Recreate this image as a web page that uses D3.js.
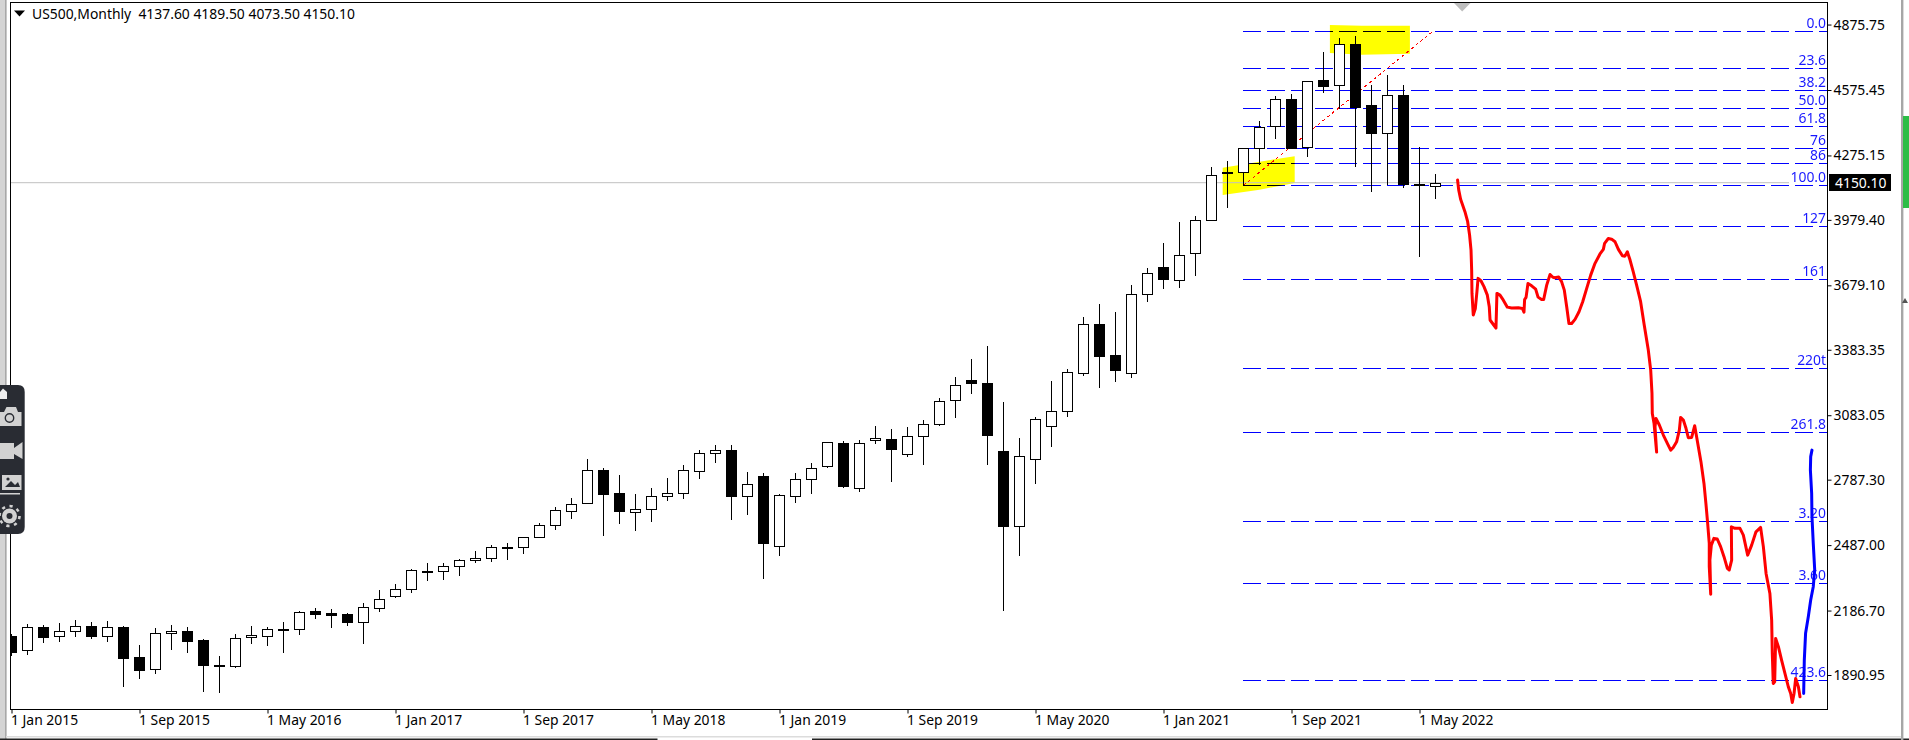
<!DOCTYPE html>
<html><head><meta charset="utf-8">
<style>html,body{margin:0;padding:0;background:#fff;overflow:hidden}svg{display:block}text{font-family:"Noto Sans",sans-serif;font-size:13.9px}</style>
<script src="https://cdn.jsdelivr.net/npm/d3@7"></script></head><body>
<svg id="c" width="1909" height="740"></svg>
<script>
const opens=[2070,2004,2111,2067,2089,2115,2067,2111,1973,1917,2080,2092,2051,1939,1935,2063,2067,2099,2100,2184,2174,2170,2131,2201,2250,2284,2365,2366,2389,2417,2426,2475,2476,2522,2577,2642,2678,2830,2724,2637,2651,2711,2724,2825,2908,2922,2711,2802,2481,2711,2789,2848,2954,2747,2968,2972,2903,2986,3041,3151,3243,3229,2919,2573,2880,3032,3099,3275,3500,3358,3275,3638,3762,3702,3825,3981,4198,4198,4308,4409,4534,4313,4620,4597,4787,4505,4377,4551,4144,4137.6];
const closes=[1998,2109,2067,2091,2114,2067,2109,1970,1915,2082,2091,2048,1938,1933,2063,2073,2100,2102,2178,2172,2167,2131,2201,2242,2284,2371,2368,2389,2417,2426,2477,2478,2522,2577,2646,2674,2830,2718,2640,2651,2711,2724,2830,2908,2922,2709,2766,2493,2715,2789,2839,2958,2755,2954,2977,2925,2986,3041,3147,3220,3228,2989,2576,2894,3064,3101,3280,3500,3352,3287,3638,3734,3705,3817,3977,4186,4192,4308,4404,4533,4311,4615,4591,4785,4499,4375,4551,4141,4138,4150.1];
const highs=[2079,2125,2120,2129,2143,2134,2138,2115,2028,2106,2120,2111,2056,1978,2079,2115,2111,2134,2184,2198,2193,2175,2221,2281,2308,2377,2403,2403,2423,2458,2486,2495,2522,2588,2660,2703,2882,2841,2809,2721,2749,2795,2854,2923,2946,2946,2822,2816,2721,2816,2864,2958,2965,2969,3033,3020,3029,3061,3160,3258,3341,3401,3143,2978,3075,3240,3295,3534,3593,3557,3681,3759,3873,3970,3997,4220,4250,4308,4432,4548,4557,4615,4750,4813,4824,4599,4645,4599,4314,4189.5];
const lows=[1978,1982,2039,2042,2067,2056,2042,1835,1872,1895,2005,1991,1812,1808,1924,2033,2024,1991,2074,2147,2106,2115,2033,2180,2245,2267,2322,2327,2345,2405,2411,2418,2446,2522,2556,2607,2678,2529,2584,2552,2593,2689,2700,2790,2864,2602,2625,2331,2437,2680,2721,2841,2747,2730,2951,2776,2891,2854,3033,3070,3180,2854,2184,2437,2767,2937,3076,3263,3209,3235,3254,3604,3662,3668,3723,3975,4036,4138,4233,4352,4311,4270,4562,4490,4224,4108,4138,4127,3809,4073.5];

const priceTicks=[4875.75,4575.45,4275.15,3979.40,3679.10,3383.35,3083.05,2787.30,2487.00,2186.70,1890.95];
const timeTicks=[[0,"1 Jan 2015"],[8,"1 Sep 2015"],[16,"1 May 2016"],[24,"1 Jan 2017"],[32,"1 Sep 2017"],[40,"1 May 2018"],[48,"1 Jan 2019"],[56,"1 Sep 2019"],[64,"1 May 2020"],[72,"1 Jan 2021"],[80,"1 Sep 2021"],[88,"1 May 2022"]];
const fibLabels=["0.0","23.6","38.2","50.0","61.8","76","86","100.0","127","161","220t","261.8","3.20","3.60","423.6"];
const fibPrices=[4845,4675,4574,4491,4409,4308,4239,4138,3950,3707,3298,3005,2596,2312,1867];
const fibStartBar=77;
const lastClose=4150.10;
const headerText="US500,Monthly  4137.60 4189.50 4073.50 4150.10";
const trendBars=[77,88.84], trendPrices=[4138,4845];
const highlightTopBars=[82.4,84.4,87.4,87.4,84.4,82.4], highlightTopPrices=[4874,4870,4870,4742,4737,4745];
const highlightLowBars=[75.7,80.2,80.2,78,75.7], highlightLowPrices=[4219,4272,4149,4118,4094];

const redBars=[90.38,90.45,90.57,90.84,91.01,91.13,91.22,91.26,91.28,91.36,91.49,91.59,91.66,91.84,92.03,92.24,92.36,92.41,92.57,92.78,92.84,93.03,93.24,93.49,93.76,94.18,94.43,94.53,94.57,94.66,94.78,95.01,95.26,95.41,95.63,95.76,95.95,96.16,96.32,96.45,96.70,96.88,97.05,97.2,97.34,97.51,97.72,97.97,98.2,98.45,98.7,98.97,99.28,99.49,99.57,99.8,100.01,100.22,100.43,100.68,100.84,100.99,101.16,101.36,101.57,101.82,102.03,102.3,102.45,102.53,102.55,102.66,102.82,102.72,102.78,102.99,103.24,103.49,103.7,103.86,104.07,104.24,104.32,104.49,104.66,104.8,105.01,105.2,105.59,105.78,105.9,106.01,106.11,106.11,106.2,106.15,106.24,106.4,106.61,106.82,107.03,107.24,107.36,107.51,107.49,107.72,108.03,108.24,108.51,108.76,109.03,109.32,109.49,109.66,109.9,110.01,110.05,110.11,110.2,110.26,110.43,110.63,110.84,111.05,111.2,111.3,111.41,111.51,111.68,111.78];
const redPrices=[4162,4117,4074,4017,3971,3910,3841,3749,3642,3543,3573,3650,3711,3700,3673,3634,3581,3520,3504,3483,3642,3634,3611,3579,3575,3576,3573,3556,3614,3624,3688,3677,3662,3625,3614,3614,3680,3729,3717,3714,3717,3696,3657,3581,3504,3504,3523,3558,3604,3665,3726,3780,3823,3844,3872,3894,3891,3879,3844,3815,3813,3833,3795,3741,3680,3604,3504,3382,3290,3183,3091,3045,2914,3030,3068,3038,2992,2954,2923,2935,2961,3015,3073,3061,3022,2980,2981,3035,2870,2770,2679,2587,2495,2388,2262,2418,2487,2518,2515,2480,2434,2380,2373,2418,2571,2564,2564,2533,2441,2487,2548,2568,2480,2357,2265,2143,1990,1852,1860,2059,2021,1959,1898,1837,1806,1765,1806,1875,1837,1791];
const blueBars=[112.01,112.05,112.13,112.3,112.45,112.61,112.7,112.61,112.53,112.51,112.43,112.45,112.53];
const bluePrices=[1806,1959,2082,2158,2235,2296,2373,2495,2617,2724,2832,2893,2923];

const pL=10.5, pR=1827.5, pT=2.5, pB=709.5;
const x=d3.scaleLinear().domain([0,89]).range([11.5,1435.5]);
const y=d3.scaleLinear().domain([4575.45,1890.95]).range([90,675]);
const svg=d3.select("#c");
const ln=d3.line();

// window chrome
svg.append("rect").attr("x",0).attr("y",0).attr("width",1909).attr("height",740).attr("fill","#fff");
svg.append("rect").attr("x",0).attr("y",0).attr("width",6.5).attr("height",740).attr("fill","#d4d4d4");
svg.append("rect").attr("x",5).attr("y",0).attr("width",1.5).attr("height",740).attr("fill","#a8a8a8");
svg.append("rect").attr("x",6).attr("y",736).attr("width",1897).attr("height",1.5).attr("fill","#dcdcdc");
svg.append("rect").attr("x",0).attr("y",738.5).attr("width",657.5).attr("height",1.5).attr("fill","#222");
svg.append("rect").attr("x",812).attr("y",738.5).attr("width",1097).attr("height",1.5).attr("fill","#222");
svg.append("rect").attr("x",1901).attr("y",0).attr("width",2.4).attr("height",740).attr("fill","#a6a6a6");
svg.append("rect").attr("x",1903).attr("y",116).attr("width",6).attr("height",92).attr("fill","#2dbd46");

const defs=svg.append("defs");
defs.append("clipPath").attr("id","plot").append("rect").attr("x",pL).attr("y",pT).attr("width",pR-pL).attr("height",pB-pT);
const g=svg.append("g").attr("clip-path","url(#plot)");

// highlights
[[highlightTopBars,highlightTopPrices],[highlightLowBars,highlightLowPrices]].forEach(([b,p])=>{
  g.append("path").attr("d",ln(b.map((v,i)=>[x(v),y(p[i])]))+"Z").attr("fill","#ffff00");
});

// current price line
g.append("line").attr("x1",pL).attr("x2",1789).attr("y1",y(lastClose)).attr("y2",y(lastClose)).attr("stroke","#c0c0c0").attr("stroke-width",1);

// fibonacci levels
const ov=g.append("g").style("mix-blend-mode","multiply");
ov.selectAll("line").data(fibPrices).join("line")
 .attr("x1",x(fibStartBar)-0.5).attr("x2",pR)
 .attr("y1",d=>Math.floor(y(d))+0.5).attr("y2",d=>Math.floor(y(d))+0.5)
 .attr("stroke","#0000ff").attr("stroke-width",1).attr("stroke-dasharray","18 6").attr("shape-rendering","crispEdges");
ov.append("path").attr("d",ln(trendBars.map((v,i)=>[x(v),y(trendPrices[i])])))
 .attr("fill","none").attr("stroke","#ff0000").attr("stroke-width",1).attr("stroke-dasharray","3 3").attr("shape-rendering","crispEdges");

// candles
const idx=d3.range(opens.length);
g.selectAll("line.w").data(idx).join("line").attr("class","w")
 .attr("x1",i=>x(i)).attr("x2",i=>x(i)).attr("y1",i=>y(highs[i])).attr("y2",i=>y(lows[i]))
 .attr("stroke","#000").attr("stroke-width",1).attr("shape-rendering","crispEdges");
g.selectAll("rect.b").data(idx).join("rect").attr("class","b")
 .attr("x",i=>x(i)-5).attr("width",10)
 .attr("y",i=>Math.round(y(Math.max(opens[i],closes[i])))+0.5)
 .attr("height",i=>Math.max(1,Math.round(Math.abs(y(opens[i])-y(closes[i])))))
 .attr("fill",i=>closes[i]>=opens[i]?"#fff":"#000").attr("stroke","#000").attr("stroke-width",1).attr("shape-rendering","crispEdges");

// hand-drawn forecast lines
g.append("path").attr("d",ln(redBars.map((v,i)=>[x(v),y(redPrices[i])])))
 .attr("fill","none").attr("stroke","#ff0000").attr("stroke-width",3).attr("stroke-linejoin","round").attr("stroke-linecap","round");
g.append("path").attr("d",ln(blueBars.map((v,i)=>[x(v),y(bluePrices[i])])))
 .attr("fill","none").attr("stroke","#0000ff").attr("stroke-width",3).attr("stroke-linejoin","round").attr("stroke-linecap","round");

// fib labels
svg.append("g").selectAll("text").data(fibPrices).join("text")
 .attr("x",pR-1.5).attr("y",d=>y(d)-3.5).attr("text-anchor","end").attr("fill","#0000ff").attr("opacity",0.9)
 .text((d,i)=>fibLabels[i]);

// frame
svg.append("path").attr("d",`M${pL},${pB}V${pT}H${pR}V${pB}H${pL}`).attr("fill","none").attr("stroke","#000").attr("stroke-width",1).attr("shape-rendering","crispEdges");

// price axis
const rightAxis=svg.append("g").attr("transform",`translate(${pR},0)`).call(d3.axisRight(y).tickValues(priceTicks).tickSize(4).tickPadding(2).tickFormat(d3.format(".2f")));
rightAxis.select(".domain").remove();
rightAxis.selectAll("line").attr("stroke","#000");
rightAxis.selectAll("text").attr("fill","#000").style("font-family",'"Noto Sans",sans-serif').style("font-size","13.9px");

// time axis
const bottomAxis=svg.append("g").attr("transform",`translate(0,${pB})`).call(d3.axisBottom(x).tickValues(timeTicks.map(d=>d[0])).tickSize(4).tickPadding(2).tickFormat((d,i)=>timeTicks[i][1]));
bottomAxis.select(".domain").remove();
bottomAxis.selectAll("line").attr("stroke","#000");
bottomAxis.selectAll("text").attr("fill","#000").attr("text-anchor","start").attr("dx",-1).style("font-family",'"Noto Sans",sans-serif').style("font-size","13.9px");

// last price tag
svg.append("rect").attr("x",1829).attr("y",y(lastClose)-8.7).attr("width",62).attr("height",17).attr("fill","#000");
svg.append("text").attr("x",1835).attr("y",y(lastClose)+4.9).attr("fill","#fff").text(d3.format(".2f")(lastClose));

// header
svg.append("path").attr("d","M14,10.5H25L19.5,16.5Z").attr("fill","#000");
svg.append("text").attr("x",32).attr("y",19).attr("fill","#000").style("white-space","pre").text(headerText);

// grey markers
svg.append("path").attr("d","M1454,3H1470.5L1462.2,11.5Z").attr("fill","#bdbdbd");
svg.append("path").attr("d","M1902,303H1908L1905,298Z").attr("fill","#555");

// side toolbar
const tb=svg.append("g");
tb.append("path").attr("d","M0,385H18Q24.7,385 24.7,392V527Q24.7,534 18,534H0Z").attr("fill","#292c33");
const ic="#d2d2d2";
tb.append("path").attr("d","M0,392L3,388.5L7,392V399H0Z").attr("fill","#eee");
tb.append("path").attr("d","M0,412H4L6.5,407H16L18,412H21.5V426H0Z").attr("fill",ic);
tb.append("circle").attr("cx",9.5).attr("cy",418).attr("r",4.2).attr("fill","none").attr("stroke","#292c33").attr("stroke-width",1.4);
tb.append("path").attr("d","M0,443H14V448L22.5,442V459L14,454V459H0Z").attr("fill",ic);
tb.append("path").attr("d","M2,475H21.5V490H2Z").attr("fill",ic);
tb.append("path").attr("d","M0,493H20V494.5H0Z").attr("fill",ic);
tb.append("path").attr("d","M5,487L11,481L15,485L18,482L20,487Z").attr("fill","#292c33");
tb.append("circle").attr("cx",8).attr("cy",479).attr("r",1.6).attr("fill","#292c33");
tb.append("circle").attr("cx",9.5).attr("cy",516).attr("r",7.5).attr("fill",ic);
tb.append("circle").attr("cx",9.5).attr("cy",516).attr("r",10).attr("fill","none").attr("stroke",ic).attr("stroke-width",2.6).attr("stroke-dasharray","3.2 4.6");
tb.append("circle").attr("cx",9.5).attr("cy",516).attr("r",3).attr("fill","#292c33");
</script></body></html>
